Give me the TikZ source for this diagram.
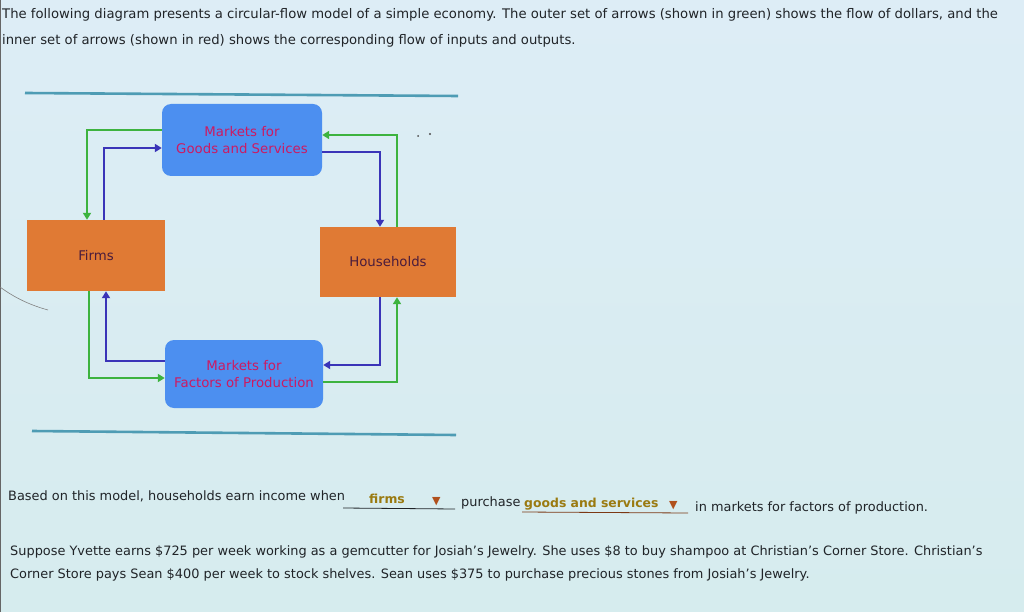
\documentclass[tikz,border=0pt]{standalone}
\usepackage{fontspec}
\setmainfont{DejaVu Sans}
\usetikzlibrary{arrows.meta}
\definecolor{bgtop}{HTML}{DDEDF6}
\definecolor{bgbot}{HTML}{D6ECEE}
\definecolor{rule}{HTML}{4E9CB4}
\definecolor{mkt}{HTML}{4C8FF0}
\definecolor{mkttext}{HTML}{CC1A62}
\definecolor{agent}{HTML}{E07A34}
\definecolor{agenttext}{HTML}{4A1C3C}
\definecolor{money}{HTML}{3DB33F}
\definecolor{goods}{HTML}{3A34B8}
\definecolor{txt}{HTML}{202428}
\definecolor{answer}{HTML}{9A7A10}
\definecolor{tri}{HTML}{B0501C}
\begin{document}
\begin{tikzpicture}[x=1pt,y=-1pt,
  market/.style={draw=none,fill=mkt,rounded corners=9pt,minimum width=160pt,text=mkttext,align=center,font=\fontsize{13.3}{16.5}\selectfont},
  agentbox/.style={draw=none,fill=agent,text=agenttext,font=\fontsize{13.3}{16}\selectfont},
  greenflow/.style={draw=money,line width=2.2pt,-{Triangle[length=7pt,width=8pt]}},
  blueflow/.style={draw=goods,line width=2.2pt,-{Triangle[length=7pt,width=8pt]}},
  para/.style={anchor=base west,text=txt,inner sep=0pt,font=\fontsize{12.9}{15}\selectfont},
  ans/.style={para,text=answer,font=\fontsize{12.4}{15}\selectfont\bfseries},
  sep/.style={draw=rule,line width=2.6pt}]
\useasboundingbox (0,0) rectangle (1024,612);
\shade[top color=bgtop,bottom color=bgbot] (0,0) rectangle (1024,612);
\draw[gray!80!black,line width=1.4pt] (0.7,0) -- (0.7,612);
% header
\node[para,font=\fontsize{13.2}{15}\selectfont] (h1) at (2,19) {The following diagram presents a circular-flow model of a simple economy. The outer set of arrows (shown in green) shows the flow of dollars, and the};
\node[para,font=\fontsize{13.2}{15}\selectfont] (h2) at (2,45) {inner set of arrows (shown in red) shows the corresponding flow of inputs and outputs.};
% separators
\coordinate (s1a) at (25,93); \coordinate (s1b) at (458,96);
\draw[sep] (s1a) -- (s1b);
\coordinate (s2a) at (32,431); \coordinate (s2b) at (456,435);
\draw[sep] (s2a) -- (s2b);
% boxes
\node[market,minimum height=72pt] (gs) at (242,140) {Markets for\\Goods and Services};
\node[market,minimum height=68pt,minimum width=158pt] (fp) at (244,374) {Markets for\\Factors of Production};
\node[agentbox,minimum width=138pt,minimum height=71pt] (firms) at (96,255.5) {Firms};
\node[agentbox,minimum width=136pt,minimum height=70pt] (hh) at (388,262) {Households};
% top-left
\draw[greenflow] (gs.west |- 0,130) -| (firms.north -| 87,0);
\draw[blueflow] (firms.north -| 104,0) |- (gs.west |- 0,148);
% top-right
\draw[blueflow] (gs.east |- 0,152) -| (hh.north -| 380,0);
\draw[greenflow] (hh.north -| 397,0) |- (gs.east |- 0,135);
% bottom-left
\draw[greenflow] (firms.south -| 89,0) |- (fp.west |- 0,378);
\draw[blueflow] (fp.west |- 0,361) -| (firms.south -| 106,0);
% bottom-right
\draw[blueflow] (hh.south -| 380,0) |- (fp.east |- 0,365);
\draw[greenflow] (fp.east |- 0,382) -| (hh.south -| 397,0);
% stray marks
\fill[black!70] (430,134) circle (1.2pt);
\fill[black!70] (418,136) circle (1pt);
\draw[gray,line width=0.6pt] (0,287) .. controls (15,298) and (30,305) .. (48,310);
% question
\node[para] (q1) at (8,500) {Based on this model, households earn income when};
\node[ans] (a1) at (369,503) {firms};
\node[para,text=tri,font=\fontsize{11}{12}\selectfont] (t1) at (432,504) {▼};
\coordinate (u1a) at (343,508); \coordinate (u1b) at (455,509);
\draw[txt,line width=0.8pt] (u1a) -- (u1b);
\node[para] (q2) at (461,506) {purchase};
\node[ans] (a2) at (524,507) {goods and services};
\node[para,text=tri,font=\fontsize{11}{12}\selectfont] (t2) at (669,508) {▼};
\coordinate (u2a) at (522,512); \coordinate (u2b) at (688,513);
\draw[tri!70!black,line width=0.8pt] (u2a) -- (u2b);
\node[para] (q3) at (695,511) {in markets for factors of production.};
% scenario
\node[para] (p1) at (10,555) {Suppose Yvette earns \$725 per week working as a gemcutter for Josiah’s Jewelry. She uses \$8 to buy shampoo at Christian’s Corner Store. Christian’s};
\node[para] (p2) at (10,578) {Corner Store pays Sean \$400 per week to stock shelves. Sean uses \$375 to purchase precious stones from Josiah’s Jewelry.};
\end{tikzpicture}
\end{document}
